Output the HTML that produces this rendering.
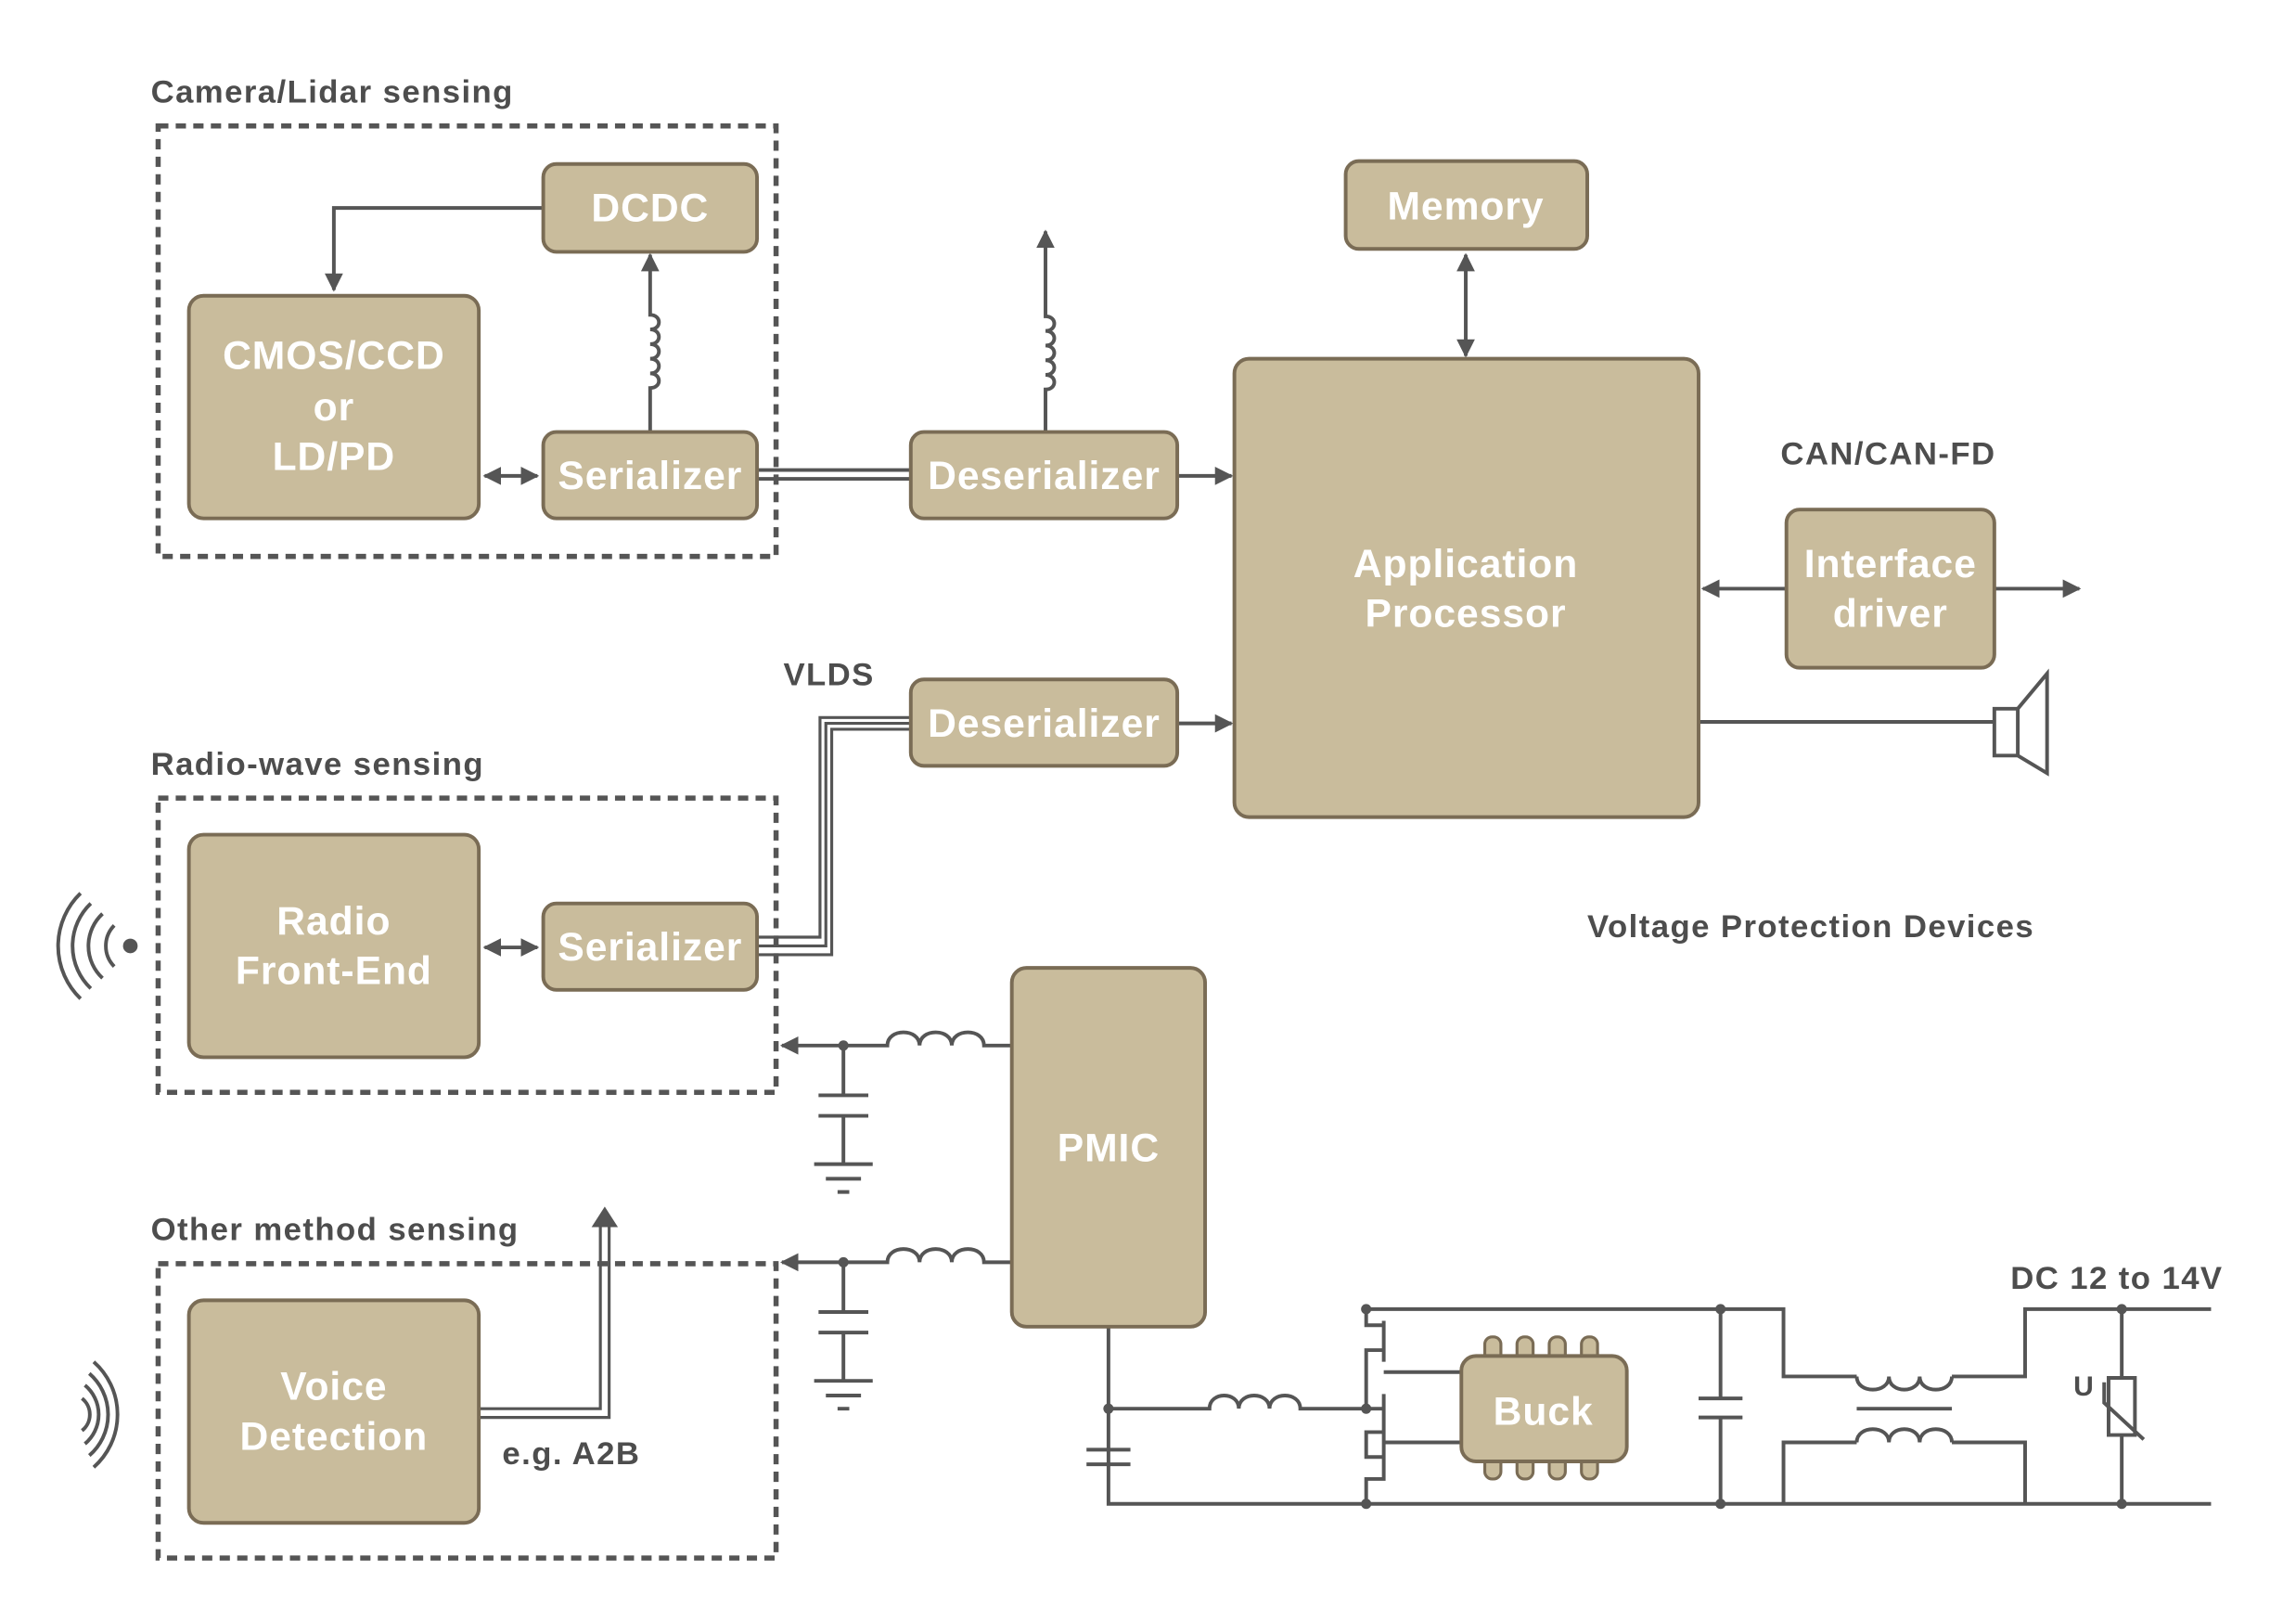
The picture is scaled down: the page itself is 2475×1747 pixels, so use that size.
<!DOCTYPE html>
<html><head><meta charset="utf-8"><style>html,body{margin:0;padding:0;background:#fff}svg{display:block}</style></head>
<body>
<svg width="2475" height="1747" viewBox="0 0 1568 1107" preserveAspectRatio="none" xmlns="http://www.w3.org/2000/svg">
<defs>
<marker id="a" viewBox="0 0 10 10" refX="9" refY="5" markerWidth="5" markerHeight="5" orient="auto-start-reverse"><path d="M0,0L10,5L0,10z" fill="#555"/></marker>
</defs>
<style>
.b{fill:#c9bc9c;stroke:#7a6c55;stroke-width:2.5}
.t{fill:#fff;font-family:"Liberation Sans",sans-serif;font-weight:bold;font-size:27px;letter-spacing:0.6px;text-anchor:middle}
.l{fill:#4d4d4d;font-family:"Liberation Sans",sans-serif;font-weight:bold;font-size:22px;letter-spacing:0.9px}
.w{stroke:#555;stroke-width:2.5;fill:none}
.d{stroke:#555;stroke-width:3.5;fill:none;stroke-dasharray:7,5}
</style>
<rect class="d" x="108" y="86" width="422" height="294"/>
<rect class="d" x="108" y="545" width="422" height="201"/>
<rect class="d" x="108" y="863" width="422" height="201"/>
<text class="l" x="103" y="70">Camera/Lidar sensing</text>
<text class="l" x="103" y="529">Radio-wave sensing</text>
<text class="l" x="103" y="847">Other method sensing</text>
<text class="l" x="535" y="468">VLDS</text>
<text class="l" x="343" y="1000">e.g. A2B</text>
<text class="l" x="1216" y="317">CAN/CAN-FD</text>
<text class="l" x="1084" y="640">Voltage Protection Devices</text>
<text class="l" x="1373" y="880">DC 12 to 14V</text>

<path class="w" d="M371,142H228V198" marker-end="url(#a)"/>
<path class="w" d="M444,295V265c8,0 8,-10 0,-10c8,0 8,-10 0,-10c8,0 8,-10 0,-10c8,0 8,-10 0,-10c8,0 8,-10 0,-10V174" marker-end="url(#a)"/>
<path class="w" d="M714,295V266c8,0 8,-10 0,-10c8,0 8,-10 0,-10c8,0 8,-10 0,-10c8,0 8,-10 0,-10c8,0 8,-10 0,-10V158" marker-end="url(#a)"/>
<path class="w" d="M331,325H367" marker-start="url(#a)" marker-end="url(#a)"/>
<path class="w" d="M331,647H367" marker-start="url(#a)" marker-end="url(#a)"/>
<path class="w" d="M517,321H622M517,327H622"/>
<path class="w" d="M804,325H841" marker-end="url(#a)"/>
<path class="w" d="M804,494H841" marker-end="url(#a)"/>
<path class="w" d="M1001,174V243" marker-start="url(#a)" marker-end="url(#a)"/>
<path class="w" d="M1220,402H1163" marker-end="url(#a)"/>
<path class="w" d="M1362,402H1420" marker-end="url(#a)"/>
<path class="w" d="M1160,493H1362"/>
<path class="w" d="M1362,484h16v32h-16z M1378,484L1398,460V528L1378,516"/>
<path class="w" d="M517,640H560V490H622M517,646H564V494H622M517,652H568V498H622" style="stroke-width:2"/>
<path class="w" d="M327,962H410V832M327,968H416V832" style="stroke-width:2"/>
<path d="M404,838L413,824L422,838z" fill="#555"/>

<g id="feed">
<path class="w" d="M691,714H672c0,-12 -22,-12 -22,0c0,-12 -22,-12 -22,0c0,-12 -22,-12 -22,0H534" marker-end="url(#a)"/>
<circle cx="576" cy="714" r="3.5" fill="#555"/>
<path class="w" d="M576,714V748M559,748H593M559,762H593M576,762V795M556,795H596M564,805H588M572,814H580"/>
</g>
<use href="#feed" transform="translate(0,148)"/>

<path class="w" d="M757,906V1027H1510M757,962H826c0,-12 20,-12 20,0c0,-12 21,-12 21,0c0,-12 21,-12 21,0H933"/>
<circle cx="757" cy="962" r="3.5" fill="#555"/>
<path class="w" d="M742,990H772M742,1000H772"/>
<path class="w" d="M933,894H1218V940H1268M1333,940H1383V894H1510M1218,1027V985H1268M1333,985H1383V1027"/>
<path class="w" d="M1268,940c0,12 22,12 22,0c0,12 21,12 21,0c0,12 22,12 22,0M1268,985c0,-12 22,-12 22,0c0,-12 21,-12 21,0c0,-12 22,-12 22,0M1268,962H1333"/>
<path class="w" d="M933,894V905H945V922H933V962H945V978H933V995H945V1010H933V1027M945,902V930M945,952V1002M945,937H998M945,985H998"/>
<circle cx="933" cy="894" r="3.5" fill="#555"/><circle cx="933" cy="962" r="3.5" fill="#555"/><circle cx="933" cy="1027" r="3.5" fill="#555"/>
<circle cx="1175" cy="894" r="3.5" fill="#555"/><circle cx="1175" cy="1027" r="3.5" fill="#555"/>
<circle cx="1449" cy="894" r="3.5" fill="#555"/><circle cx="1449" cy="1027" r="3.5" fill="#555"/>
<path class="w" d="M1175,894V955M1160,955H1190M1160,968H1190M1175,968V1027"/>
<path class="w" d="M1449,894V941M1449,980V1027M1440,941h18v39h-18zM1437,944V958L1464,983"/>
<text class="l" x="1416" y="953" style="font-size:19px">U</text>

<g fill="#c9bc9c" stroke="#7a6c55" stroke-width="2">
<rect x="1014" y="913" width="11" height="97" rx="5"/><rect x="1036" y="913" width="11" height="97" rx="5"/><rect x="1058" y="913" width="11" height="97" rx="5"/><rect x="1080" y="913" width="11" height="97" rx="5"/>
</g>

<rect class="b" x="371" y="112" width="146" height="60" rx="9"/><text class="t" x="444" y="151">DCDC</text>
<rect class="b" x="129" y="202" width="198" height="152" rx="10"/><text class="t" x="228" y="252">CMOS/CCD</text><text class="t" x="228" y="287">or</text><text class="t" x="228" y="321">LD/PD</text>
<rect class="b" x="371" y="295" width="146" height="59" rx="9"/><text class="t" x="444" y="334">Serializer</text>
<rect class="b" x="622" y="295" width="182" height="59" rx="9"/><text class="t" x="713" y="334">Deserializer</text>
<rect class="b" x="919" y="110" width="165" height="60" rx="9"/><text class="t" x="1001" y="150">Memory</text>
<rect class="b" x="843" y="245" width="317" height="313" rx="10"/><text class="t" x="1001" y="394">Application</text><text class="t" x="1001" y="428">Processor</text>
<rect class="b" x="1220" y="348" width="142" height="108" rx="9"/><text class="t" x="1291" y="394">Interface</text><text class="t" x="1291" y="428">driver</text>
<rect class="b" x="622" y="464" width="182" height="59" rx="9"/><text class="t" x="713" y="503">Deserializer</text>
<rect class="b" x="129" y="570" width="198" height="152" rx="10"/><text class="t" x="228" y="638">Radio</text><text class="t" x="228" y="672">Front-End</text>
<rect class="b" x="371" y="617" width="146" height="59" rx="9"/><text class="t" x="444" y="656">Serializer</text>
<rect class="b" x="691" y="661" width="132" height="245" rx="10"/><text class="t" x="757" y="793">PMIC</text>
<rect class="b" x="129" y="888" width="198" height="152" rx="10"/><text class="t" x="228" y="956">Voice</text><text class="t" x="228" y="990">Detection</text>
<rect class="b" x="998" y="926" width="113" height="72" rx="10"/><text class="t" x="1054" y="973">Buck</text>

<circle cx="89" cy="646" r="5" fill="#555"/>
<g class="w" stroke-width="2.5">
<path d="M78,632A20,20 0 0 0 78,660"/><path d="M70,624A30,30 0 0 0 70,668"/><path d="M62,617A40,40 0 0 0 62,675"/><path d="M55,610A50,50 0 0 0 55,682"/>
<path d="M56,955A14,14 0 0 1 56,977"/><path d="M58,946A26,26 0 0 1 58,986"/><path d="M61,938A37,37 0 0 1 61,994"/><path d="M64,930A48,48 0 0 1 64,1002"/>
</g>
</svg>
</body></html>
